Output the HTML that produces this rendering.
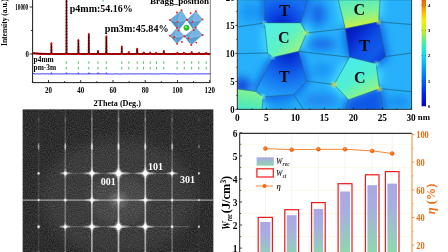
<!DOCTYPE html>
<html><head><meta charset="utf-8"><title>figure</title>
<style>
html,body{margin:0;padding:0;background:#fff;}
body{width:448px;height:252px;overflow:hidden;}
svg{display:block;}
text{font-family:"Liberation Serif",serif;font-weight:bold;}
</style></head><body>
<svg width="448" height="252" viewBox="0 0 448 252">
<rect width="448" height="252" fill="#fff"/>

<defs>
<filter id="noise" x="0" y="0" width="100%" height="100%" color-interpolation-filters="sRGB">
<feTurbulence type="fractalNoise" baseFrequency="0.95" numOctaves="2" seed="7" result="t"/>
<feColorMatrix type="matrix" values="0.26 0 0 0 0.05  0.26 0 0 0 0.05  0.26 0 0 0 0.05  0 0 0 0 1"/>
</filter>
<clipPath id="temclip"><rect x="22.7" y="109.5" width="190.6" height="143"/></clipPath>
<clipPath id="hmclip"><rect x="237.3" y="0" width="174.3" height="109.6"/></clipPath>
<clipPath id="xrdclip"><rect x="33" y="0" width="177.5" height="83"/></clipPath>
<filter id="b1"><feGaussianBlur stdDeviation="1"/></filter>
<filter id="b2"><feGaussianBlur stdDeviation="2.2"/></filter>
<filter id="b4"><feGaussianBlur stdDeviation="4"/></filter>
<filter id="b7"><feGaussianBlur stdDeviation="7"/></filter>
<filter id="b06"><feGaussianBlur stdDeviation="0.65"/></filter>
<filter id="b05"><feGaussianBlur stdDeviation="0.5"/></filter>
<radialGradient id="spot"><stop offset="0" stop-color="#fff" stop-opacity="1"/><stop offset="0.35" stop-color="#fff" stop-opacity="0.7"/><stop offset="1" stop-color="#fff" stop-opacity="0"/></radialGradient>
<linearGradient id="vfade" x1="0" y1="0" x2="0" y2="1"><stop offset="0" stop-color="#fff" stop-opacity="0.25"/><stop offset="0.35" stop-color="#fff" stop-opacity="0.75"/><stop offset="0.6" stop-color="#fff" stop-opacity="1"/><stop offset="1" stop-color="#fff" stop-opacity="0.8"/></linearGradient>
<linearGradient id="hflare" x1="0" y1="0" x2="1" y2="0"><stop offset="0" stop-color="#fff" stop-opacity="0"/><stop offset="0.5" stop-color="#fff" stop-opacity="1"/><stop offset="1" stop-color="#fff" stop-opacity="0"/></linearGradient>
<linearGradient id="vflare" x1="0" y1="0" x2="0" y2="1"><stop offset="0" stop-color="#fff" stop-opacity="0"/><stop offset="0.5" stop-color="#fff" stop-opacity="1"/><stop offset="1" stop-color="#fff" stop-opacity="0"/></linearGradient>
<linearGradient id="bargrad" x1="0" y1="0" x2="0" y2="1" gradientUnits="userSpaceOnUse"><stop offset="0" stop-color="#a9a5e3"/></linearGradient>
<linearGradient id="barg" gradientUnits="userSpaceOnUse" x1="0" y1="184" x2="0" y2="252"><stop offset="0" stop-color="#aaa8e6"/><stop offset="0.45" stop-color="#a6b4d8"/><stop offset="1" stop-color="#8fd4b0"/></linearGradient>
<linearGradient id="legg2" x1="0" y1="0" x2="0" y2="1"><stop offset="0" stop-color="#aaa7e4"/><stop offset="0.25" stop-color="#a8aee0"/><stop offset="0.75" stop-color="#90d6b0"/><stop offset="1" stop-color="#8cd8aa"/></linearGradient>
<linearGradient id="legg" x1="0" y1="0" x2="0" y2="1"><stop offset="0" stop-color="#aaa8e6"/><stop offset="1" stop-color="#8fd4b0"/></linearGradient>
<linearGradient id="cbar" x1="0" y1="1" x2="0" y2="0"><stop offset="0" stop-color="#0000d0"/><stop offset="0.1" stop-color="#0028f0"/><stop offset="0.2" stop-color="#0060ff"/><stop offset="0.3" stop-color="#00a0ff"/><stop offset="0.4" stop-color="#10d8f0"/><stop offset="0.45" stop-color="#20e8d0"/><stop offset="0.5" stop-color="#40f0a0"/><stop offset="0.55" stop-color="#80f060"/><stop offset="0.6" stop-color="#c8f020"/><stop offset="0.68" stop-color="#f0f000"/><stop offset="0.74" stop-color="#f8c000"/><stop offset="0.8" stop-color="#f08000"/><stop offset="0.86" stop-color="#f05800"/><stop offset="1" stop-color="#e02000"/></linearGradient>
</defs>
<g id="xrd">
<path d="M32.6 0V82.6H210.3" fill="none" stroke="#000" stroke-width="0.9"/>
<path d="M210.3 82.6V0" fill="none" stroke="#444" stroke-width="0.7"/>
<g clip-path="url(#xrdclip)">
<path d="M32.6 53.1L40.6 54.0H210.3" fill="none" stroke="#e00000" stroke-width="2.0"/>
<path d="M32.6 53.2L50.40 54.0L51.05 52.8L51.40 43.3L51.75 52.8L52.40 54.0L65.50 54.0L66.15 52.8L66.50 -30L66.85 52.8L67.50 54.0L77.40 54.0L78.05 52.8L78.40 39.6L78.75 52.8L79.40 54.0L87.80 54.0L88.45 52.8L88.80 33.6L89.15 52.8L89.80 54.0L97.00 54.0L97.65 52.8L98.00 50.4L98.35 52.8L99.00 54.0L105.40 54.0L106.05 52.8L106.40 36.2L106.75 52.8L107.40 54.0L120.80 54.0L121.45 52.8L121.80 46L122.15 52.8L122.80 54.0L127.80 54.0L128.45 52.8L128.80 52L129.15 52.8L129.80 54.0L136.20 54.0L136.85 52.8L137.20 48.7L137.55 52.8L138.20 54.0L142.80 54.0L143.45 52.8L143.80 52L144.15 52.8L144.80 54.0L149.20 54.0L149.85 52.8L150.20 52.5L150.55 52.8L151.20 54.0L155.40 54.0L156.05 52.8L156.40 52.8L156.75 52.8L157.40 54.0L162.80 54.0L163.45 52.8L163.80 50.5L164.15 52.8L164.80 54.0L176.20 54.0L176.85 52.8L177.20 53L177.55 52.8L178.20 54.0L183.20 54.0L183.85 52.8L184.20 53L184.55 52.8L185.20 54.0L190.70 54.0L191.35 52.8L191.70 52L192.05 52.8L192.70 54.0L197.80 54.0L198.45 52.8L198.80 53L199.15 52.8L199.80 54.0L205.00 54.0L205.65 52.8L206.00 52.5L206.35 52.8L207.00 54.0L210.3 54.0" fill="none" stroke="#ee1010" stroke-width="1.9" stroke-linejoin="round" stroke-dasharray="0.8 0.7"/>
<path d="M32.6 53.2L50.40 54.0L51.05 52.8L51.40 43.3L51.75 52.8L52.40 54.0L65.50 54.0L66.15 52.8L66.50 -30L66.85 52.8L67.50 54.0L77.40 54.0L78.05 52.8L78.40 39.6L78.75 52.8L79.40 54.0L87.80 54.0L88.45 52.8L88.80 33.6L89.15 52.8L89.80 54.0L97.00 54.0L97.65 52.8L98.00 50.4L98.35 52.8L99.00 54.0L105.40 54.0L106.05 52.8L106.40 36.2L106.75 52.8L107.40 54.0L120.80 54.0L121.45 52.8L121.80 46L122.15 52.8L122.80 54.0L127.80 54.0L128.45 52.8L128.80 52L129.15 52.8L129.80 54.0L136.20 54.0L136.85 52.8L137.20 48.7L137.55 52.8L138.20 54.0L142.80 54.0L143.45 52.8L143.80 52L144.15 52.8L144.80 54.0L149.20 54.0L149.85 52.8L150.20 52.5L150.55 52.8L151.20 54.0L155.40 54.0L156.05 52.8L156.40 52.8L156.75 52.8L157.40 54.0L162.80 54.0L163.45 52.8L163.80 50.5L164.15 52.8L164.80 54.0L176.20 54.0L176.85 52.8L177.20 53L177.55 52.8L178.20 54.0L183.20 54.0L183.85 52.8L184.20 53L184.55 52.8L185.20 54.0L190.70 54.0L191.35 52.8L191.70 52L192.05 52.8L192.70 54.0L197.80 54.0L198.45 52.8L198.80 53L199.15 52.8L199.80 54.0L205.00 54.0L205.65 52.8L206.00 52.5L206.35 52.8L207.00 54.0L210.3 54.0" fill="none" stroke="#1c0000" stroke-width="0.75" stroke-linejoin="round"/>
<circle cx="51.4" cy="43.599999999999994" r="0.75" fill="#ee1010"/>
<circle cx="78.4" cy="39.9" r="0.75" fill="#ee1010"/>
<circle cx="88.8" cy="33.9" r="0.75" fill="#ee1010"/>
<circle cx="98" cy="50.699999999999996" r="0.75" fill="#ee1010"/>
<circle cx="106.4" cy="36.5" r="0.75" fill="#ee1010"/>
<circle cx="121.8" cy="46.3" r="0.75" fill="#ee1010"/>
<circle cx="128.8" cy="52.3" r="0.75" fill="#ee1010"/>
<circle cx="137.2" cy="49.0" r="0.75" fill="#ee1010"/>
<circle cx="143.8" cy="52.3" r="0.75" fill="#ee1010"/>
<circle cx="150.2" cy="52.8" r="0.75" fill="#ee1010"/>
<circle cx="156.4" cy="53.099999999999994" r="0.75" fill="#ee1010"/>
<circle cx="163.8" cy="50.8" r="0.75" fill="#ee1010"/>
<circle cx="177.2" cy="53.3" r="0.75" fill="#ee1010"/>
<circle cx="184.2" cy="53.3" r="0.75" fill="#ee1010"/>
<circle cx="191.7" cy="52.3" r="0.75" fill="#ee1010"/>
<circle cx="198.8" cy="53.3" r="0.75" fill="#ee1010"/>
<circle cx="206" cy="52.8" r="0.75" fill="#ee1010"/>
<path d="M32.6 73.0L34.1 73.84L35.6 73.91L37.1 73.87L38.6 73.92L40.1 73.93L41.6 73.80L43.1 73.78L44.6 73.98L46.1 73.84L47.6 73.84L49.1 74.02L50.6 73.89L52.1 73.98L53.6 73.89L55.1 73.93L56.6 73.82L58.1 73.93L59.6 73.99L61.1 73.91L62.6 73.96L64.1 73.94L65.6 73.80L67.1 73.96L68.6 73.92L70.1 73.85L71.6 73.79L73.1 73.99L74.6 73.89L76.1 73.95L77.6 73.99L79.1 73.95L80.6 74.00L82.1 73.87L83.6 73.97L85.1 73.89L86.6 74.00L88.1 73.99L89.6 73.80L91.1 73.81L92.6 73.83L94.1 74.01L95.6 73.88L97.1 73.93L98.6 73.85L100.1 73.90L101.6 73.87L103.1 73.86L104.6 73.92L106.1 73.92L107.6 74.00L109.1 73.94L110.6 74.00L112.1 73.99L113.6 74.02L115.1 73.94L116.6 73.82L118.1 73.99L119.6 74.01L121.1 74.00L122.6 73.92L124.1 73.95L125.6 73.83L127.1 73.98L128.6 73.92L130.1 73.85L131.6 73.80L133.1 73.98L134.6 74.02L136.1 73.80L137.6 73.97L139.1 73.88L140.6 73.82L142.1 73.85L143.6 73.96L145.1 73.99L146.6 73.79L148.1 73.93L149.6 73.79L151.1 73.95L152.6 73.86L154.1 73.99L155.6 74.02L157.1 73.90L158.6 74.02L160.1 73.85L161.6 73.80L163.1 73.92L164.6 73.79L166.1 73.83L167.6 73.88L169.1 73.93L170.6 73.82L172.1 73.79L173.6 73.99L175.1 73.86L176.6 74.01L178.1 74.00L179.6 73.87L181.1 73.89L182.6 73.90L184.1 73.93L185.6 73.92L187.1 73.91L188.6 73.93L190.1 74.01L191.6 73.90L193.1 73.88L194.6 73.95L196.1 73.84L197.6 73.85L199.1 74.01L200.6 73.91L202.1 73.91L203.6 73.78L205.1 73.88L206.6 73.92L208.1 73.78L209.6 73.93L211.1 73.93" fill="none" stroke="#2222ee" stroke-width="0.9"/>
<path d="M50.6 73.9L51.4 72.6L52.199999999999996 73.9" fill="none" stroke="#2222ee" stroke-width="0.7"/>
<path d="M65.7 73.9L66.5 72.6L67.3 73.9" fill="none" stroke="#2222ee" stroke-width="0.7"/>
<path d="M77.60000000000001 73.9L78.4 72.6L79.2 73.9" fill="none" stroke="#2222ee" stroke-width="0.7"/>
<path d="M88.0 73.9L88.8 72.6L89.6 73.9" fill="none" stroke="#2222ee" stroke-width="0.7"/>
<path d="M97.2 73.9L98 72.6L98.8 73.9" fill="none" stroke="#2222ee" stroke-width="0.7"/>
<path d="M105.60000000000001 73.9L106.4 72.6L107.2 73.9" fill="none" stroke="#2222ee" stroke-width="0.7"/>
<rect x="65.85" y="61.3" width="0.9" height="2.5" fill="#44b455"/>
<rect x="65.85" y="66.9" width="0.9" height="2.5" fill="#44b455"/>
<rect x="77.85" y="61.3" width="0.9" height="2.5" fill="#44b455"/>
<rect x="77.85" y="66.9" width="0.9" height="2.5" fill="#44b455"/>
<rect x="88.35" y="61.3" width="0.9" height="2.5" fill="#44b455"/>
<rect x="88.35" y="66.9" width="0.9" height="2.5" fill="#44b455"/>
<rect x="97.55" y="61.3" width="0.9" height="2.5" fill="#44b455"/>
<rect x="97.55" y="66.9" width="0.9" height="2.5" fill="#44b455"/>
<rect x="105.85" y="61.3" width="0.9" height="2.5" fill="#44b455"/>
<rect x="105.85" y="66.9" width="0.9" height="2.5" fill="#44b455"/>
<rect x="121.35" y="61.3" width="0.9" height="2.5" fill="#44b455"/>
<rect x="121.35" y="66.9" width="0.9" height="2.5" fill="#44b455"/>
<rect x="128.35" y="61.3" width="0.9" height="2.5" fill="#44b455"/>
<rect x="128.35" y="66.9" width="0.9" height="2.5" fill="#44b455"/>
<rect x="136.75" y="61.3" width="0.9" height="2.5" fill="#44b455"/>
<rect x="136.75" y="66.9" width="0.9" height="2.5" fill="#44b455"/>
<rect x="142.95" y="61.3" width="0.9" height="2.5" fill="#44b455"/>
<rect x="142.95" y="66.9" width="0.9" height="2.5" fill="#44b455"/>
<rect x="149.75" y="61.3" width="0.9" height="2.5" fill="#44b455"/>
<rect x="149.75" y="66.9" width="0.9" height="2.5" fill="#44b455"/>
<rect x="156.15" y="61.3" width="0.9" height="2.5" fill="#44b455"/>
<rect x="156.15" y="66.9" width="0.9" height="2.5" fill="#44b455"/>
<rect x="163.35" y="61.3" width="0.9" height="2.5" fill="#44b455"/>
<rect x="163.35" y="66.9" width="0.9" height="2.5" fill="#44b455"/>
<rect x="176.65" y="61.3" width="0.9" height="2.5" fill="#44b455"/>
<rect x="176.65" y="66.9" width="0.9" height="2.5" fill="#44b455"/>
<rect x="183.75" y="61.3" width="0.9" height="2.5" fill="#44b455"/>
<rect x="183.75" y="66.9" width="0.9" height="2.5" fill="#44b455"/>
<rect x="191.25" y="61.3" width="0.9" height="2.5" fill="#44b455"/>
<rect x="191.25" y="66.9" width="0.9" height="2.5" fill="#44b455"/>
<rect x="198.35" y="61.3" width="0.9" height="2.5" fill="#44b455"/>
<rect x="198.35" y="66.9" width="0.9" height="2.5" fill="#44b455"/>
<rect x="205.75" y="61.3" width="0.9" height="2.5" fill="#44b455"/>
<rect x="205.75" y="66.9" width="0.9" height="2.5" fill="#44b455"/>
<rect x="102.6" y="0" width="0.9" height="1.6" fill="#3cb44a"/>
</g>
<path d="M32.38 82.6v-1.5" stroke="#000" stroke-width="0.8"/>
<path d="M48.50 82.6v-2.6" stroke="#000" stroke-width="0.8"/>
<path d="M64.62 82.6v-1.5" stroke="#000" stroke-width="0.8"/>
<path d="M80.74 82.6v-2.6" stroke="#000" stroke-width="0.8"/>
<path d="M96.86 82.6v-1.5" stroke="#000" stroke-width="0.8"/>
<path d="M112.98 82.6v-2.6" stroke="#000" stroke-width="0.8"/>
<path d="M129.10 82.6v-1.5" stroke="#000" stroke-width="0.8"/>
<path d="M145.22 82.6v-2.6" stroke="#000" stroke-width="0.8"/>
<path d="M161.34 82.6v-1.5" stroke="#000" stroke-width="0.8"/>
<path d="M177.46 82.6v-2.6" stroke="#000" stroke-width="0.8"/>
<path d="M193.58 82.6v-1.5" stroke="#000" stroke-width="0.8"/>
<path d="M209.70 82.6v-2.6" stroke="#000" stroke-width="0.8"/>
<path d="M32.6 54.00h-3.0" stroke="#000" stroke-width="0.8"/>
<path d="M32.6 30.50h-1.7" stroke="#000" stroke-width="0.8"/>
<path d="M32.6 7.00h-3.0" stroke="#000" stroke-width="0.8"/>
<text x="29" y="56.6" font-size="8" text-anchor="end" textLength="3.4" lengthAdjust="spacingAndGlyphs">0</text>
<text x="28.2" y="9.6" font-size="8" text-anchor="end" textLength="13" lengthAdjust="spacingAndGlyphs">10000</text>
<text x="48.5" y="92.5" font-size="8" text-anchor="middle" textLength="6.9" lengthAdjust="spacingAndGlyphs">20</text>
<text x="80.7" y="92.5" font-size="8" text-anchor="middle" textLength="6.9" lengthAdjust="spacingAndGlyphs">40</text>
<text x="113.0" y="92.5" font-size="8" text-anchor="middle" textLength="6.9" lengthAdjust="spacingAndGlyphs">60</text>
<text x="145.2" y="92.5" font-size="8" text-anchor="middle" textLength="6.9" lengthAdjust="spacingAndGlyphs">80</text>
<text x="177.5" y="92.5" font-size="8" text-anchor="middle" textLength="10.4" lengthAdjust="spacingAndGlyphs">100</text>
<text x="209.7" y="92.5" font-size="8" text-anchor="middle" textLength="10.4" lengthAdjust="spacingAndGlyphs">120</text>
<text x="117.2" y="105.8" font-size="8.2" text-anchor="middle" textLength="47.5" lengthAdjust="spacingAndGlyphs">2Theta (Deg.)</text>
<text transform="translate(7.4,46) rotate(-90)" font-size="7.4" textLength="47" lengthAdjust="spacingAndGlyphs">Intensity (a.u.)</text>
<text x="69.8" y="11.8" font-size="10" textLength="63" lengthAdjust="spacingAndGlyphs">p4mm:54.16%</text>
<text x="104.8" y="32" font-size="10" textLength="63.8" lengthAdjust="spacingAndGlyphs">pm3m:45.84%</text>
<text x="150" y="3.6" font-size="9" textLength="59" lengthAdjust="spacingAndGlyphs">Bragg_position</text>
<text x="33.6" y="61.9" font-size="7.4">p4mm</text>
<text x="33.6" y="69.8" font-size="7.4">pm-3m</text>
<polygon points="181.5,10.3 187.2,19.6 178.6,30.4 170.0,20.0" fill="#5a9cd2" stroke="#9ccbea" stroke-width="0.45" stroke-linejoin="round"/><polygon points="181.5,10.3 187.2,19.6 177.6,22.0" fill="#78b4e2"/><polygon points="170.0,20.0 177.6,22.0 178.6,30.4" fill="#4a8ac2"/><polygon points="181.5,10.3 170.0,20.0 177.6,22.0" fill="#66a8da"/><path d="M181.5 10.3L177.6 22.0L178.6 30.4M170.0 20.0L177.6 22.0L187.2 19.6" stroke="#b4d8f2" stroke-width="0.4" fill="none"/>
<polygon points="195.8,11.2 202.6,19.4 193.8,30.0 186.9,20.0" fill="#5a9cd2" stroke="#9ccbea" stroke-width="0.45" stroke-linejoin="round"/><polygon points="195.8,11.2 202.6,19.4 192.6,21.8" fill="#78b4e2"/><polygon points="186.9,20.0 192.6,21.8 193.8,30.0" fill="#4a8ac2"/><polygon points="195.8,11.2 186.9,20.0 192.6,21.8" fill="#66a8da"/><path d="M195.8 11.2L192.6 21.8L193.8 30.0M186.9 20.0L192.6 21.8L202.6 19.4" stroke="#b4d8f2" stroke-width="0.4" fill="none"/>
<polygon points="177.0,28.0 184.4,36.2 177.0,43.8 170.0,35.8" fill="#5a9cd2" stroke="#9ccbea" stroke-width="0.45" stroke-linejoin="round"/><polygon points="177.0,28.0 184.4,36.2 174.4,37.0" fill="#78b4e2"/><polygon points="170.0,35.8 174.4,37.0 177.0,43.8" fill="#4a8ac2"/><polygon points="177.0,28.0 170.0,35.8 174.4,37.0" fill="#66a8da"/><path d="M177.0 28.0L174.4 37.0L177.0 43.8M170.0 35.8L174.4 37.0L184.4 36.2" stroke="#b4d8f2" stroke-width="0.4" fill="none"/>
<polygon points="195.6,27.6 202.6,35.0 191.3,45.0 184.4,36.2" fill="#5a9cd2" stroke="#9ccbea" stroke-width="0.45" stroke-linejoin="round"/><polygon points="195.6,27.6 202.6,35.0 188.8,38.2" fill="#78b4e2"/><polygon points="184.4,36.2 188.8,38.2 191.3,45.0" fill="#4a8ac2"/><polygon points="195.6,27.6 184.4,36.2 188.8,38.2" fill="#66a8da"/><path d="M195.6 27.6L188.8 38.2L191.3 45.0M184.4 36.2L188.8 38.2L202.6 35.0" stroke="#b4d8f2" stroke-width="0.4" fill="none"/>
<circle cx="181.5" cy="10.3" r="0.95" fill="#ee1c1c"/>
<circle cx="187.2" cy="19.6" r="0.95" fill="#ee1c1c"/>
<circle cx="178.6" cy="30.4" r="0.95" fill="#ee1c1c"/>
<circle cx="170.0" cy="20.0" r="0.95" fill="#ee1c1c"/>
<circle cx="177.6" cy="22.0" r="0.95" fill="#ee1c1c"/>
<circle cx="176.9" cy="12.5" r="0.95" fill="#ee1c1c"/>
<circle cx="195.8" cy="11.2" r="0.95" fill="#ee1c1c"/>
<circle cx="202.6" cy="19.4" r="0.95" fill="#ee1c1c"/>
<circle cx="193.8" cy="30.0" r="0.95" fill="#ee1c1c"/>
<circle cx="186.9" cy="20.0" r="0.95" fill="#ee1c1c"/>
<circle cx="192.6" cy="21.8" r="0.95" fill="#ee1c1c"/>
<circle cx="190.6" cy="13.2" r="0.95" fill="#ee1c1c"/>
<circle cx="177.0" cy="28.0" r="0.95" fill="#ee1c1c"/>
<circle cx="184.4" cy="36.2" r="0.95" fill="#ee1c1c"/>
<circle cx="177.0" cy="43.8" r="0.95" fill="#ee1c1c"/>
<circle cx="170.0" cy="35.8" r="0.95" fill="#ee1c1c"/>
<circle cx="174.4" cy="37.0" r="0.95" fill="#ee1c1c"/>
<circle cx="181.9" cy="41.9" r="0.95" fill="#ee1c1c"/>
<circle cx="195.6" cy="27.6" r="0.95" fill="#ee1c1c"/>
<circle cx="202.6" cy="35.0" r="0.95" fill="#ee1c1c"/>
<circle cx="191.3" cy="45.0" r="0.95" fill="#ee1c1c"/>
<circle cx="184.4" cy="36.2" r="0.95" fill="#ee1c1c"/>
<circle cx="188.8" cy="38.2" r="0.95" fill="#ee1c1c"/>
<circle cx="196.3" cy="42.6" r="0.95" fill="#ee1c1c"/>
<circle cx="186.5" cy="27.8" r="2.7" fill="#22cc22" stroke="#128a12" stroke-width="0.4"/>
<circle cx="185.8" cy="27" r="1" fill="#9af59a"/>
</g>
<g id="tem" clip-path="url(#temclip)">
<rect x="22.7" y="109.5" width="190.6" height="143" fill="#2b2b2b"/>
<rect x="22.7" y="109.5" width="190.6" height="143" filter="url(#noise)"/>
<ellipse cx="118.5" cy="197" rx="78" ry="58" fill="#fff" opacity="0.075" filter="url(#b7)"/>
<ellipse cx="118.5" cy="200.1" rx="30" ry="24" fill="#fff" opacity="0.07" filter="url(#b4)"/>
<ellipse cx="118.5" cy="200.1" rx="9" ry="8" fill="#fff" opacity="0.16" filter="url(#b2)"/>
<rect x="37.79" y="105" width="1.7" height="150" fill="url(#vfade)" opacity="0.1" filter="url(#b06)"/>
<rect x="64.41" y="105" width="1.7" height="150" fill="url(#vfade)" opacity="0.32" filter="url(#b06)"/>
<rect x="91.03" y="105" width="1.7" height="150" fill="url(#vfade)" opacity="0.66" filter="url(#b06)"/>
<rect x="117.65" y="105" width="1.7" height="150" fill="url(#vfade)" opacity="0.74" filter="url(#b06)"/>
<rect x="144.45" y="105" width="1.7" height="150" fill="url(#vfade)" opacity="0.66" filter="url(#b06)"/>
<rect x="171.25" y="105" width="1.7" height="150" fill="url(#vfade)" opacity="0.3" filter="url(#b06)"/>
<rect x="198.05" y="105" width="1.7" height="150" fill="url(#vfade)" opacity="0.03" filter="url(#b06)"/>
<rect x="18" y="199.55" width="200" height="1.1" fill="#fff" opacity="0.62" filter="url(#b05)"/>
<rect x="70" y="172.90" width="108" height="0.9" fill="#fff" opacity="0.22" filter="url(#b05)"/>
<rect x="60" y="226.25" width="130" height="0.9" fill="#fff" opacity="0.26" filter="url(#b05)"/>
<ellipse cx="38.6" cy="119.8" rx="1.7" ry="4.0" fill="url(#spot)" opacity="0.07"/>
<ellipse cx="38.6" cy="119.8" rx="0.75" ry="2.4" fill="#fff" opacity="0.11" filter="url(#b05)"/>
<ellipse cx="38.6" cy="146.6" rx="1.7" ry="5.0" fill="url(#spot)" opacity="0.22"/>
<ellipse cx="38.6" cy="146.6" rx="0.75" ry="3.4" fill="#fff" opacity="0.32" filter="url(#b05)"/>
<ellipse cx="38.6" cy="173.3" rx="1.98" ry="2.34" fill="url(#spot)" opacity="0.54"/>
<ellipse cx="38.6" cy="173.3" rx="0.95" ry="1.17" fill="#fff" opacity="0.78" filter="url(#b05)"/>
<ellipse cx="38.6" cy="200.1" rx="1.76" ry="2.08" fill="url(#spot)" opacity="0.44"/>
<ellipse cx="38.6" cy="200.1" rx="0.84" ry="1.04" fill="#fff" opacity="0.64" filter="url(#b05)"/>
<ellipse cx="38.6" cy="226.7" rx="2.20" ry="2.60" fill="url(#spot)" opacity="0.56"/>
<ellipse cx="38.6" cy="226.7" rx="1.05" ry="1.30" fill="#fff" opacity="0.80" filter="url(#b05)"/>
<ellipse cx="38.6" cy="253.3" rx="2.20" ry="2.60" fill="url(#spot)" opacity="0.56"/>
<ellipse cx="38.6" cy="253.3" rx="1.05" ry="1.30" fill="#fff" opacity="0.80" filter="url(#b05)"/>
<ellipse cx="65.3" cy="119.8" rx="1.7" ry="4.0" fill="url(#spot)" opacity="0.07"/>
<ellipse cx="65.3" cy="119.8" rx="0.75" ry="2.4" fill="#fff" opacity="0.11" filter="url(#b05)"/>
<ellipse cx="65.3" cy="146.6" rx="1.7" ry="5.0" fill="url(#spot)" opacity="0.31"/>
<ellipse cx="65.3" cy="146.6" rx="0.75" ry="3.4" fill="#fff" opacity="0.47" filter="url(#b05)"/>
<ellipse cx="65.3" cy="173.3" rx="2.64" ry="3.12" fill="url(#spot)" opacity="0.60"/>
<ellipse cx="65.3" cy="173.3" rx="1.26" ry="1.56" fill="#fff" opacity="0.86" filter="url(#b05)"/>
<rect x="58.8" y="172.2" width="13.0" height="2.2" fill="url(#hflare)" opacity="0.79" filter="url(#b05)"/>
<rect x="64.3" y="168.1" width="2" height="10.6" fill="url(#vflare)" opacity="0.64" filter="url(#b05)"/>
<ellipse cx="65.3" cy="200.1" rx="2.42" ry="2.86" fill="url(#spot)" opacity="0.49"/>
<ellipse cx="65.3" cy="200.1" rx="1.16" ry="1.43" fill="#fff" opacity="0.71" filter="url(#b05)"/>
<ellipse cx="65.3" cy="226.7" rx="2.64" ry="3.12" fill="url(#spot)" opacity="0.60"/>
<ellipse cx="65.3" cy="226.7" rx="1.26" ry="1.56" fill="#fff" opacity="0.86" filter="url(#b05)"/>
<rect x="58.8" y="225.6" width="13.0" height="2.2" fill="url(#hflare)" opacity="0.79" filter="url(#b05)"/>
<rect x="64.3" y="221.4" width="2" height="10.6" fill="url(#vflare)" opacity="0.64" filter="url(#b05)"/>
<ellipse cx="65.3" cy="253.3" rx="2.20" ry="2.60" fill="url(#spot)" opacity="0.56"/>
<ellipse cx="65.3" cy="253.3" rx="1.05" ry="1.30" fill="#fff" opacity="0.80" filter="url(#b05)"/>
<ellipse cx="91.9" cy="119.8" rx="1.7" ry="4.0" fill="url(#spot)" opacity="0.09"/>
<ellipse cx="91.9" cy="119.8" rx="0.75" ry="2.4" fill="#fff" opacity="0.13" filter="url(#b05)"/>
<ellipse cx="91.9" cy="146.6" rx="1.7" ry="5.0" fill="url(#spot)" opacity="0.40"/>
<ellipse cx="91.9" cy="146.6" rx="0.75" ry="3.4" fill="#fff" opacity="0.60" filter="url(#b05)"/>
<ellipse cx="91.9" cy="173.3" rx="3.74" ry="4.42" fill="url(#spot)" opacity="0.70"/>
<ellipse cx="91.9" cy="173.3" rx="1.78" ry="2.21" fill="#fff" opacity="1.00" filter="url(#b05)"/>
<rect x="82.7" y="172.2" width="18.4" height="2.2" fill="url(#hflare)" opacity="0.92" filter="url(#b05)"/>
<rect x="90.9" y="165.9" width="2" height="15.0" fill="url(#vflare)" opacity="0.74" filter="url(#b05)"/>
<ellipse cx="91.9" cy="200.1" rx="3.30" ry="3.90" fill="url(#spot)" opacity="0.56"/>
<ellipse cx="91.9" cy="200.1" rx="1.58" ry="1.95" fill="#fff" opacity="0.81" filter="url(#b05)"/>
<rect x="83.8" y="199.0" width="16.2" height="2.2" fill="url(#hflare)" opacity="0.74" filter="url(#b05)"/>
<rect x="90.9" y="193.5" width="2" height="13.2" fill="url(#vflare)" opacity="0.60" filter="url(#b05)"/>
<ellipse cx="91.9" cy="226.7" rx="3.74" ry="4.42" fill="url(#spot)" opacity="0.70"/>
<ellipse cx="91.9" cy="226.7" rx="1.78" ry="2.21" fill="#fff" opacity="1.00" filter="url(#b05)"/>
<rect x="82.7" y="225.6" width="18.4" height="2.2" fill="url(#hflare)" opacity="0.92" filter="url(#b05)"/>
<rect x="90.9" y="219.2" width="2" height="15.0" fill="url(#vflare)" opacity="0.74" filter="url(#b05)"/>
<ellipse cx="91.9" cy="253.3" rx="2.20" ry="2.60" fill="url(#spot)" opacity="0.56"/>
<ellipse cx="91.9" cy="253.3" rx="1.05" ry="1.30" fill="#fff" opacity="0.80" filter="url(#b05)"/>
<ellipse cx="118.5" cy="119.8" rx="1.7" ry="4.0" fill="url(#spot)" opacity="0.10"/>
<ellipse cx="118.5" cy="119.8" rx="0.75" ry="2.4" fill="#fff" opacity="0.14" filter="url(#b05)"/>
<ellipse cx="118.5" cy="146.6" rx="1.7" ry="5.0" fill="url(#spot)" opacity="0.43"/>
<ellipse cx="118.5" cy="146.6" rx="0.75" ry="3.4" fill="#fff" opacity="0.65" filter="url(#b05)"/>
<ellipse cx="118.5" cy="173.3" rx="5.06" ry="5.98" fill="url(#spot)" opacity="0.80"/>
<ellipse cx="118.5" cy="173.3" rx="2.42" ry="2.99" fill="#fff" opacity="1.00" filter="url(#b05)"/>
<rect x="106.1" y="172.2" width="24.8" height="2.2" fill="url(#hflare)" opacity="1.00" filter="url(#b05)"/>
<rect x="117.5" y="163.2" width="2" height="20.2" fill="url(#vflare)" opacity="0.85" filter="url(#b05)"/>
<ellipse cx="118.5" cy="200.1" rx="2.64" ry="3.12" fill="url(#spot)" opacity="0.51"/>
<ellipse cx="118.5" cy="200.1" rx="1.26" ry="1.56" fill="#fff" opacity="0.73" filter="url(#b05)"/>
<rect x="112.0" y="199.0" width="13.0" height="2.2" fill="url(#hflare)" opacity="0.67" filter="url(#b05)"/>
<rect x="117.5" y="194.8" width="2" height="10.6" fill="url(#vflare)" opacity="0.54" filter="url(#b05)"/>
<ellipse cx="118.5" cy="226.7" rx="4.84" ry="5.72" fill="url(#spot)" opacity="0.80"/>
<ellipse cx="118.5" cy="226.7" rx="2.31" ry="2.86" fill="#fff" opacity="1.00" filter="url(#b05)"/>
<rect x="106.6" y="225.6" width="23.8" height="2.2" fill="url(#hflare)" opacity="1.00" filter="url(#b05)"/>
<rect x="117.5" y="217.0" width="2" height="19.4" fill="url(#vflare)" opacity="0.85" filter="url(#b05)"/>
<ellipse cx="118.5" cy="253.3" rx="2.20" ry="2.60" fill="url(#spot)" opacity="0.56"/>
<ellipse cx="118.5" cy="253.3" rx="1.05" ry="1.30" fill="#fff" opacity="0.80" filter="url(#b05)"/>
<ellipse cx="145.3" cy="119.8" rx="1.7" ry="4.0" fill="url(#spot)" opacity="0.09"/>
<ellipse cx="145.3" cy="119.8" rx="0.75" ry="2.4" fill="#fff" opacity="0.13" filter="url(#b05)"/>
<ellipse cx="145.3" cy="146.6" rx="1.7" ry="5.0" fill="url(#spot)" opacity="0.40"/>
<ellipse cx="145.3" cy="146.6" rx="0.75" ry="3.4" fill="#fff" opacity="0.60" filter="url(#b05)"/>
<ellipse cx="145.3" cy="173.3" rx="4.62" ry="5.46" fill="url(#spot)" opacity="0.78"/>
<ellipse cx="145.3" cy="173.3" rx="2.21" ry="2.73" fill="#fff" opacity="1.00" filter="url(#b05)"/>
<rect x="134.0" y="172.2" width="22.7" height="2.2" fill="url(#hflare)" opacity="1.00" filter="url(#b05)"/>
<rect x="144.3" y="164.1" width="2" height="18.5" fill="url(#vflare)" opacity="0.83" filter="url(#b05)"/>
<ellipse cx="145.3" cy="200.1" rx="3.08" ry="3.64" fill="url(#spot)" opacity="0.54"/>
<ellipse cx="145.3" cy="200.1" rx="1.47" ry="1.82" fill="#fff" opacity="0.78" filter="url(#b05)"/>
<rect x="137.7" y="199.0" width="15.1" height="2.2" fill="url(#hflare)" opacity="0.71" filter="url(#b05)"/>
<rect x="144.3" y="193.9" width="2" height="12.3" fill="url(#vflare)" opacity="0.58" filter="url(#b05)"/>
<ellipse cx="145.3" cy="226.7" rx="3.96" ry="4.68" fill="url(#spot)" opacity="0.72"/>
<ellipse cx="145.3" cy="226.7" rx="1.89" ry="2.34" fill="#fff" opacity="1.00" filter="url(#b05)"/>
<rect x="135.6" y="225.6" width="19.4" height="2.2" fill="url(#hflare)" opacity="0.95" filter="url(#b05)"/>
<rect x="144.3" y="218.8" width="2" height="15.8" fill="url(#vflare)" opacity="0.77" filter="url(#b05)"/>
<ellipse cx="145.3" cy="253.3" rx="2.20" ry="2.60" fill="url(#spot)" opacity="0.56"/>
<ellipse cx="145.3" cy="253.3" rx="1.05" ry="1.30" fill="#fff" opacity="0.80" filter="url(#b05)"/>
<ellipse cx="172.1" cy="119.8" rx="1.7" ry="4.0" fill="url(#spot)" opacity="0.07"/>
<ellipse cx="172.1" cy="119.8" rx="0.75" ry="2.4" fill="#fff" opacity="0.11" filter="url(#b05)"/>
<ellipse cx="172.1" cy="146.6" rx="1.7" ry="5.0" fill="url(#spot)" opacity="0.31"/>
<ellipse cx="172.1" cy="146.6" rx="0.75" ry="3.4" fill="#fff" opacity="0.47" filter="url(#b05)"/>
<ellipse cx="172.1" cy="173.3" rx="2.64" ry="3.12" fill="url(#spot)" opacity="0.60"/>
<ellipse cx="172.1" cy="173.3" rx="1.26" ry="1.56" fill="#fff" opacity="0.86" filter="url(#b05)"/>
<rect x="165.6" y="172.2" width="13.0" height="2.2" fill="url(#hflare)" opacity="0.79" filter="url(#b05)"/>
<rect x="171.1" y="168.1" width="2" height="10.6" fill="url(#vflare)" opacity="0.64" filter="url(#b05)"/>
<ellipse cx="172.1" cy="200.1" rx="2.20" ry="2.60" fill="url(#spot)" opacity="0.48"/>
<ellipse cx="172.1" cy="200.1" rx="1.05" ry="1.30" fill="#fff" opacity="0.68" filter="url(#b05)"/>
<ellipse cx="172.1" cy="226.7" rx="2.20" ry="2.60" fill="url(#spot)" opacity="0.56"/>
<ellipse cx="172.1" cy="226.7" rx="1.05" ry="1.30" fill="#fff" opacity="0.80" filter="url(#b05)"/>
<ellipse cx="172.1" cy="253.3" rx="2.20" ry="2.60" fill="url(#spot)" opacity="0.56"/>
<ellipse cx="172.1" cy="253.3" rx="1.05" ry="1.30" fill="#fff" opacity="0.80" filter="url(#b05)"/>
<ellipse cx="198.9" cy="119.8" rx="1.7" ry="3.1" fill="url(#spot)" opacity="0.05"/>
<ellipse cx="198.9" cy="119.8" rx="0.75" ry="1.5" fill="#fff" opacity="0.08" filter="url(#b05)"/>
<ellipse cx="198.9" cy="146.6" rx="1.7" ry="3.1" fill="url(#spot)" opacity="0.16"/>
<ellipse cx="198.9" cy="146.6" rx="0.75" ry="1.5" fill="#fff" opacity="0.23" filter="url(#b05)"/>
<ellipse cx="198.9" cy="173.3" rx="1.76" ry="2.08" fill="url(#spot)" opacity="0.52"/>
<ellipse cx="198.9" cy="173.3" rx="0.84" ry="1.04" fill="#fff" opacity="0.75" filter="url(#b05)"/>
<ellipse cx="198.9" cy="200.1" rx="1.54" ry="1.82" fill="url(#spot)" opacity="0.43"/>
<ellipse cx="198.9" cy="200.1" rx="0.73" ry="0.91" fill="#fff" opacity="0.61" filter="url(#b05)"/>
<ellipse cx="198.9" cy="226.7" rx="1.76" ry="2.08" fill="url(#spot)" opacity="0.52"/>
<ellipse cx="198.9" cy="226.7" rx="0.84" ry="1.04" fill="#fff" opacity="0.75" filter="url(#b05)"/>
<ellipse cx="198.9" cy="253.3" rx="2.20" ry="2.60" fill="url(#spot)" opacity="0.56"/>
<ellipse cx="198.9" cy="253.3" rx="1.05" ry="1.30" fill="#fff" opacity="0.80" filter="url(#b05)"/>
<text x="100.8" y="184.6" font-size="10" fill="#fff">001</text>
<text x="148" y="169.6" font-size="10" fill="#fff">101</text>
<text x="180" y="183.4" font-size="10" fill="#fff">301</text>
</g>
<defs>
<radialGradient id="gT1" gradientUnits="userSpaceOnUse" cx="282" cy="25" r="27"><stop offset="0" stop-color="#0320c2"/><stop offset="0.4" stop-color="#093ee0"/><stop offset="1" stop-color="#1670f2"/></radialGradient>
<linearGradient id="gC1" gradientUnits="userSpaceOnUse" x1="268" y1="24" x2="300" y2="56"><stop offset="0" stop-color="#54eee6"/><stop offset="0.5" stop-color="#5cf2c6"/><stop offset="1" stop-color="#a8f46c"/></linearGradient>
<linearGradient id="gT2" gradientUnits="userSpaceOnUse" x1="348" y1="30" x2="382" y2="62"><stop offset="0" stop-color="#0318bc"/><stop offset="0.2" stop-color="#0628cc"/><stop offset="0.5" stop-color="#0d4ee6"/><stop offset="0.75" stop-color="#105ae8"/><stop offset="1" stop-color="#0a3cd8"/></linearGradient>
<linearGradient id="gC2" gradientUnits="userSpaceOnUse" x1="356" y1="-6" x2="362" y2="28"><stop offset="0" stop-color="#4ce8cc"/><stop offset="0.55" stop-color="#7df29a"/><stop offset="1" stop-color="#d6f234"/></linearGradient>
<linearGradient id="gC3" gradientUnits="userSpaceOnUse" x1="350" y1="58" x2="372" y2="98"><stop offset="0" stop-color="#48ecec"/><stop offset="0.5" stop-color="#52f0d0"/><stop offset="0.8" stop-color="#84f490"/><stop offset="1" stop-color="#c4f450"/></linearGradient>
<radialGradient id="gT3" gradientUnits="userSpaceOnUse" cx="288" cy="52" r="46"><stop offset="0" stop-color="#0322c4"/><stop offset="0.2" stop-color="#0838d8"/><stop offset="0.5" stop-color="#1262ec"/><stop offset="0.8" stop-color="#1a88f4"/><stop offset="1" stop-color="#22a0f8"/></radialGradient>
<linearGradient id="gBL" gradientUnits="userSpaceOnUse" x1="250" y1="88" x2="246" y2="110"><stop offset="0" stop-color="#8af488"/><stop offset="1" stop-color="#46e8c4"/></linearGradient>
<linearGradient id="gLL" gradientUnits="userSpaceOnUse" x1="262" y1="56" x2="240" y2="90"><stop offset="0" stop-color="#25a8fa"/><stop offset="0.6" stop-color="#1478f0"/><stop offset="1" stop-color="#0a44dc"/></linearGradient>
<linearGradient id="gUB" gradientUnits="userSpaceOnUse" x1="364" y1="92" x2="364" y2="110"><stop offset="0" stop-color="#0a3cd8"/><stop offset="1" stop-color="#1a78f2"/></linearGradient>
<linearGradient id="gBM" gradientUnits="userSpaceOnUse" x1="320" y1="84" x2="322" y2="110"><stop offset="0" stop-color="#27b4fa"/><stop offset="1" stop-color="#1a88f4"/></linearGradient>
<linearGradient id="gTM" gradientUnits="userSpaceOnUse" x1="322" y1="0" x2="322" y2="32"><stop offset="0" stop-color="#1e9cf8"/><stop offset="1" stop-color="#2cc4fa"/></linearGradient>
<linearGradient id="gTL" gradientUnits="userSpaceOnUse" x1="250" y1="0" x2="250" y2="28"><stop offset="0" stop-color="#1d8ef6"/><stop offset="1" stop-color="#27b0fa"/></linearGradient>
</defs>
<g id="hm" clip-path="url(#hmclip)">
<rect x="237.3" y="0" width="174.3" height="109.4" fill="#27b0fb"/>
<g filter="url(#b4)">
<polygon points="264.6,22.9 300.6,22.9 306.5,33.0 298.6,51.4 273.0,57.4 267.7,53.0" fill="#48e2ff" stroke="#48e2ff" stroke-width="7" stroke-linejoin="round" opacity="0.9"/>
<polygon points="338.8,-6.0 380.2,-6.0 378.5,21.9 345.4,28.7" fill="#48e2ff" stroke="#48e2ff" stroke-width="7" stroke-linejoin="round" opacity="0.9"/>
<polygon points="349.6,57.2 376.0,63.7 379.4,88.6 348.5,99.7 334.2,84.5" fill="#48e2ff" stroke="#48e2ff" stroke-width="7" stroke-linejoin="round" opacity="0.9"/>
<polygon points="232.3,89.0 255.6,91.5 262.8,96.7 262.0,114.4 232.3,114.4" fill="#48e2ff" stroke="#48e2ff" stroke-width="7" stroke-linejoin="round" opacity="0.9"/>
</g>
<g filter="url(#b4)">
<polygon points="265.2,-6.0 308.4,-6.0 300.6,22.9 264.6,22.9" fill="#0e54e6" stroke="#0e54e6" stroke-width="5" stroke-linejoin="round" opacity="0.95"/>
<polygon points="345.4,28.7 378.5,21.9 385.6,56.6 376.0,63.7 349.6,57.2" fill="#0e54e6" stroke="#0e54e6" stroke-width="5" stroke-linejoin="round" opacity="0.95"/>
<polygon points="273.0,57.4 298.6,51.4 306.5,81.0 293.5,94.4 262.8,96.7 255.6,91.5" fill="#0e54e6" stroke="#0e54e6" stroke-width="5" stroke-linejoin="round" opacity="0.9"/>
<polygon points="348.5,99.7 379.4,88.6 383.0,113.4 346.3,113.4" fill="#0e54e6" stroke="#0e54e6" stroke-width="5" stroke-linejoin="round" opacity="0.95"/>
<ellipse cx="242" cy="86" rx="9" ry="8" fill="#0a3cd8" opacity="0.95"/>
<ellipse cx="322" cy="44" rx="14" ry="5.5" fill="#0f58e4" opacity="0.8"/>
<ellipse cx="318" cy="14" rx="8" ry="12" fill="#0f58e4" opacity="0.8"/>
<ellipse cx="322" cy="70" rx="10" ry="6" fill="#0f58e4" opacity="0.35"/>
<ellipse cx="320" cy="100" rx="18" ry="7" fill="#0f58e4" opacity="0.45"/>
<ellipse cx="280" cy="104" rx="14" ry="5" fill="#0f58e4" opacity="0.35"/>
<ellipse cx="250" cy="12" rx="10" ry="10" fill="#0f58e4" opacity="0.3"/>
<ellipse cx="398" cy="102" rx="12" ry="6" fill="#0f58e4" opacity="0.4"/>
</g>
<polygon points="237.3,0.0 265.5,0.0 264.6,22.9 237.3,27.0" fill="none" stroke="#1c6a86" stroke-width="0.45" stroke-linejoin="round"/>
<polygon points="237.3,27.0 264.6,22.9 267.7,53.0 237.3,53.7" fill="none" stroke="#1c6a86" stroke-width="0.45" stroke-linejoin="round"/>
<polygon points="237.3,53.7 267.7,53.0 273.0,57.4 255.6,91.5 237.3,89.0" fill="none" stroke="#1c6a86" stroke-width="0.45" stroke-linejoin="round"/>
<polygon points="307.1,0.0 338.3,0.0 345.4,28.7 306.5,33.0 300.6,22.9" fill="none" stroke="#1c6a86" stroke-width="0.45" stroke-linejoin="round"/>
<polygon points="306.5,33.0 345.4,28.7 349.6,57.2 298.6,51.4" fill="none" stroke="#1c6a86" stroke-width="0.45" stroke-linejoin="round"/>
<polygon points="298.6,51.4 349.6,57.2 334.2,84.5 306.5,81.0" fill="none" stroke="#1c6a86" stroke-width="0.45" stroke-linejoin="round"/>
<polygon points="306.5,81.0 334.2,84.5 348.5,99.7 345.5,109.4 303.5,109.4 293.5,94.4" fill="none" stroke="#1c6a86" stroke-width="0.45" stroke-linejoin="round"/>
<polygon points="262.8,96.7 293.5,94.4 303.5,109.4 262.0,109.4" fill="none" stroke="#1c6a86" stroke-width="0.45" stroke-linejoin="round"/>
<polygon points="348.5,99.7 379.4,88.6 383.0,109.4 345.5,109.4" fill="none" stroke="#1c6a86" stroke-width="0.45" stroke-linejoin="round"/>
<polygon points="379.9,0.0 411.6,0.0 411.6,24.5 378.5,21.9" fill="none" stroke="#1c6a86" stroke-width="0.45" stroke-linejoin="round"/>
<polygon points="378.5,21.9 411.6,24.5 411.6,53.0 385.6,56.6" fill="none" stroke="#1c6a86" stroke-width="0.45" stroke-linejoin="round"/>
<polygon points="385.6,56.6 411.6,53.0 411.6,91.7 379.4,88.6 376.0,63.7 376.0,63.7" fill="none" stroke="#1c6a86" stroke-width="0.45" stroke-linejoin="round"/>
<polygon points="379.4,88.6 411.6,91.7 411.6,109.4 383.0,109.4" fill="none" stroke="#1c6a86" stroke-width="0.45" stroke-linejoin="round"/>
<polygon points="265.5,0.0 307.1,0.0 300.6,22.9 264.6,22.9" fill="url(#gT1)" stroke="#1c6a86" stroke-width="0.45" stroke-linejoin="round"/>
<polygon points="264.6,22.9 300.6,22.9 306.5,33.0 298.6,51.4 273.0,57.4 267.7,53.0" fill="url(#gC1)" stroke="#1c6a86" stroke-width="0.45" stroke-linejoin="round"/>
<polygon points="338.3,0.0 379.9,0.0 378.5,21.9 345.4,28.7" fill="url(#gC2)" stroke="#1c6a86" stroke-width="0.45" stroke-linejoin="round"/>
<polygon points="345.4,28.7 378.5,21.9 385.6,56.6 376.0,63.7 349.6,57.2" fill="url(#gT2)" stroke="#1c6a86" stroke-width="0.45" stroke-linejoin="round"/>
<polygon points="349.6,57.2 376.0,63.7 379.4,88.6 348.5,99.7 334.2,84.5" fill="url(#gC3)" stroke="#1c6a86" stroke-width="0.45" stroke-linejoin="round"/>
<polygon points="273.0,57.4 298.6,51.4 306.5,81.0 293.5,94.4 262.8,96.7 255.6,91.5" fill="url(#gT3)" stroke="#1c6a86" stroke-width="0.45" stroke-linejoin="round"/>
<polygon points="237.3,89.0 255.6,91.5 262.8,96.7 262.0,109.4 237.3,109.4" fill="url(#gBL)" stroke="#1c6a86" stroke-width="0.45" stroke-linejoin="round"/>
<circle cx="306.5" cy="33" r="2.2" fill="#c8f850" opacity="0.75" filter="url(#b1)"/>
<circle cx="334" cy="84.6" r="2.6" fill="#f0e020" opacity="0.75" filter="url(#b1)"/>
<circle cx="379.4" cy="89" r="2.2" fill="#e8f040" opacity="0.75" filter="url(#b1)"/>
<circle cx="262.8" cy="96.7" r="2.4" fill="#80f8e0" opacity="0.75" filter="url(#b1)"/>
<circle cx="264.6" cy="22.9" r="2.0" fill="#70f0e8" opacity="0.75" filter="url(#b1)"/>
<circle cx="378.4" cy="22.2" r="2.0" fill="#e0f040" opacity="0.75" filter="url(#b1)"/>
<circle cx="376.5" cy="63.8" r="2.4" fill="#70f0e0" opacity="0.75" filter="url(#b1)"/>
<circle cx="272.9" cy="57.6" r="2" fill="#60e8f0" opacity="0.75" filter="url(#b1)"/>
</g>
<text x="284.6" y="16.4" font-size="16" text-anchor="middle" fill="#0a0a14">T</text>
<text x="283.9" y="43.0" font-size="16" text-anchor="middle" fill="#0a0a14">C</text>
<text x="359.2" y="14.7" font-size="16" text-anchor="middle" fill="#0a0a14">C</text>
<text x="364.6" y="51.2" font-size="16" text-anchor="middle" fill="#0a0a14">T</text>
<text x="284.3" y="81.5" font-size="16" text-anchor="middle" fill="#0a0a14">T</text>
<text x="359.7" y="83.2" font-size="16" text-anchor="middle" fill="#0a0a14">C</text>
<path d="M237.3 0V109.4H411.6V0" fill="none" stroke="#1a1a1a" stroke-width="0.8"/>
<path d="M237.3 109.4h-2" stroke="#000" stroke-width="0.7"/>
<text x="234.5" y="112.7" font-size="10" text-anchor="end" textLength="4.35" lengthAdjust="spacingAndGlyphs">0</text>
<path d="M237.3 81.4h-2" stroke="#000" stroke-width="0.7"/>
<text x="234.5" y="84.7" font-size="10" text-anchor="end" textLength="4.35" lengthAdjust="spacingAndGlyphs">5</text>
<path d="M237.3 53.4h-2" stroke="#000" stroke-width="0.7"/>
<text x="234.5" y="56.7" font-size="10" text-anchor="end" textLength="8.7" lengthAdjust="spacingAndGlyphs">10</text>
<path d="M237.3 25.4h-2" stroke="#000" stroke-width="0.7"/>
<text x="234.5" y="28.7" font-size="10" text-anchor="end" textLength="8.7" lengthAdjust="spacingAndGlyphs">15</text>
<path d="M237.3 -2.6h-2" stroke="#000" stroke-width="0.7"/>
<text x="234.5" y="0.7" font-size="10" text-anchor="end" textLength="8.7" lengthAdjust="spacingAndGlyphs">20</text>
<path d="M237.3 109.4v-1.6" stroke="#000" stroke-width="0.7"/>
<text x="237.3" y="120.9" font-size="10" text-anchor="middle" textLength="4.65" lengthAdjust="spacingAndGlyphs">0</text>
<path d="M266.3 109.4v-1.6" stroke="#000" stroke-width="0.7"/>
<text x="266.3" y="120.9" font-size="10" text-anchor="middle" textLength="4.65" lengthAdjust="spacingAndGlyphs">5</text>
<path d="M295.3 109.4v-1.6" stroke="#000" stroke-width="0.7"/>
<text x="295.3" y="120.9" font-size="10" text-anchor="middle" textLength="9.3" lengthAdjust="spacingAndGlyphs">10</text>
<path d="M324.3 109.4v-1.6" stroke="#000" stroke-width="0.7"/>
<text x="324.3" y="120.9" font-size="10" text-anchor="middle" textLength="9.3" lengthAdjust="spacingAndGlyphs">15</text>
<path d="M353.3 109.4v-1.6" stroke="#000" stroke-width="0.7"/>
<text x="353.3" y="120.9" font-size="10" text-anchor="middle" textLength="9.3" lengthAdjust="spacingAndGlyphs">20</text>
<path d="M382.3 109.4v-1.6" stroke="#000" stroke-width="0.7"/>
<text x="382.3" y="120.9" font-size="10" text-anchor="middle" textLength="9.3" lengthAdjust="spacingAndGlyphs">25</text>
<path d="M411.3 109.4v-1.6" stroke="#000" stroke-width="0.7"/>
<text x="411.1" y="120.9" font-size="10" text-anchor="middle" textLength="9.3" lengthAdjust="spacingAndGlyphs">30</text>
<path d="M237.3 95.4h-1.2" stroke="#000" stroke-width="0.6"/>
<path d="M237.3 67.4h-1.2" stroke="#000" stroke-width="0.6"/>
<path d="M237.3 39.4h-1.2" stroke="#000" stroke-width="0.6"/>
<path d="M237.3 11.4h-1.2" stroke="#000" stroke-width="0.6"/>
<path d="M251.8 109.4v-1.1" stroke="#000" stroke-width="0.6"/>
<path d="M280.8 109.4v-1.1" stroke="#000" stroke-width="0.6"/>
<path d="M309.8 109.4v-1.1" stroke="#000" stroke-width="0.6"/>
<path d="M338.8 109.4v-1.1" stroke="#000" stroke-width="0.6"/>
<path d="M367.8 109.4v-1.1" stroke="#000" stroke-width="0.6"/>
<path d="M396.8 109.4v-1.1" stroke="#000" stroke-width="0.6"/>
<text x="417.8" y="120.2" font-size="8.6" textLength="12.2" lengthAdjust="spacingAndGlyphs">nm</text>
<rect x="421.6" y="-20" width="4.4" height="126.2" fill="url(#cbar)"/>
<path d="M421.6 5.2h0.9M426 5.2h-0.9" stroke="#222" stroke-width="0.5"/>
<text x="427.8" y="6.9" font-size="5" textLength="2.6" lengthAdjust="spacingAndGlyphs">4</text>
<path d="M421.6 30.4h0.9M426 30.4h-0.9" stroke="#222" stroke-width="0.5"/>
<text x="427.8" y="32.1" font-size="5" textLength="2.6" lengthAdjust="spacingAndGlyphs">3</text>
<path d="M421.6 55.6h0.9M426 55.6h-0.9" stroke="#222" stroke-width="0.5"/>
<text x="427.8" y="57.300000000000004" font-size="5" textLength="2.6" lengthAdjust="spacingAndGlyphs">2</text>
<path d="M421.6 80.8h0.9M426 80.8h-0.9" stroke="#222" stroke-width="0.5"/>
<text x="427.8" y="82.5" font-size="5" textLength="2.6" lengthAdjust="spacingAndGlyphs">1</text>
<path d="M421.6 106h0.9M426 106h-0.9" stroke="#222" stroke-width="0.5"/>
<text x="427.8" y="107.7" font-size="5" textLength="2.6" lengthAdjust="spacingAndGlyphs">0</text>
<g id="bars">
<path d="M265.5 133.1V252" stroke="#ececec" stroke-width="0.6"/>
<path d="M291.7 133.1V252" stroke="#ececec" stroke-width="0.6"/>
<path d="M318.4 133.1V252" stroke="#ececec" stroke-width="0.6"/>
<path d="M345 133.1V252" stroke="#ececec" stroke-width="0.6"/>
<path d="M372.2 133.1V252" stroke="#ececec" stroke-width="0.6"/>
<path d="M392.2 133.1V252" stroke="#ececec" stroke-width="0.6"/>
<path d="M239.7 236.6H412.0" stroke="#f6f4d8" stroke-width="0.6"/>
<path d="M239.7 213.5H412.0" stroke="#f6f4d8" stroke-width="0.6"/>
<path d="M239.7 190.4H412.0" stroke="#f6f4d8" stroke-width="0.6"/>
<path d="M239.7 167.4H412.0" stroke="#f6f4d8" stroke-width="0.6"/>
<path d="M239.7 144.3H412.0" stroke="#f6f4d8" stroke-width="0.6"/>
<rect x="260.2" y="222.0" width="10.2" height="50.0" fill="url(#legg2)"/>
<rect x="258.2" y="217.4" width="14.2" height="90" fill="none" stroke="#f01818" stroke-width="1.2"/>
<rect x="286.8" y="215.2" width="9.8" height="56.8" fill="url(#legg2)"/>
<rect x="284.8" y="209.7" width="13.8" height="90" fill="none" stroke="#f01818" stroke-width="1.2"/>
<rect x="313.6" y="208.9" width="9.6" height="63.1" fill="url(#legg2)"/>
<rect x="311.6" y="202.6" width="13.6" height="90" fill="none" stroke="#f01818" stroke-width="1.2"/>
<rect x="340.1" y="191.5" width="9.9" height="80.5" fill="url(#legg2)"/>
<rect x="338.1" y="183.7" width="13.9" height="90" fill="none" stroke="#f01818" stroke-width="1.2"/>
<rect x="367.4" y="185.2" width="9.6" height="86.8" fill="url(#legg2)"/>
<rect x="365.4" y="174.8" width="13.6" height="90" fill="none" stroke="#f01818" stroke-width="1.2"/>
<rect x="387.4" y="183.6" width="9.6" height="88.4" fill="url(#legg2)"/>
<rect x="385.4" y="171.6" width="13.6" height="90" fill="none" stroke="#f01818" stroke-width="1.2"/>
<polyline points="265.4,148.6 291.7,149.7 318.4,149.3 345,149.3 372.2,150.9 392.2,153.5" fill="none" stroke="#f47a20" stroke-width="0.9"/>
<circle cx="265.4" cy="148.6" r="2" fill="#f26a10" stroke="#e85000" stroke-width="0.4"/>
<circle cx="265.0" cy="148.1" r="0.6" fill="#ffc090"/>
<circle cx="291.7" cy="149.7" r="2" fill="#f26a10" stroke="#e85000" stroke-width="0.4"/>
<circle cx="291.3" cy="149.2" r="0.6" fill="#ffc090"/>
<circle cx="318.4" cy="149.3" r="2" fill="#f26a10" stroke="#e85000" stroke-width="0.4"/>
<circle cx="318.0" cy="148.8" r="0.6" fill="#ffc090"/>
<circle cx="345" cy="149.3" r="2" fill="#f26a10" stroke="#e85000" stroke-width="0.4"/>
<circle cx="344.6" cy="148.8" r="0.6" fill="#ffc090"/>
<circle cx="372.2" cy="150.9" r="2" fill="#f26a10" stroke="#e85000" stroke-width="0.4"/>
<circle cx="371.8" cy="150.4" r="0.6" fill="#ffc090"/>
<circle cx="392.2" cy="153.5" r="2" fill="#f26a10" stroke="#e85000" stroke-width="0.4"/>
<circle cx="391.8" cy="153.0" r="0.6" fill="#ffc090"/>
<path d="M239.7 252V133.1" fill="none" stroke="#222" stroke-width="1"/>
<path d="M239.2 133.4H412.0" fill="none" stroke="#333" stroke-width="1.3"/>
<path d="M412.0 133.1V252" fill="none" stroke="#f47a20" stroke-width="0.9"/>
<path d="M239.7 248.1h2.4" stroke="#222" stroke-width="0.8"/>
<text x="237.5" y="252.2" font-size="10.2" text-anchor="end" textLength="4.7" lengthAdjust="spacingAndGlyphs">1</text>
<path d="M239.7 225.0h2.4" stroke="#222" stroke-width="0.8"/>
<text x="237.5" y="229.1" font-size="10.2" text-anchor="end" textLength="4.7" lengthAdjust="spacingAndGlyphs">2</text>
<path d="M239.7 202.0h2.4" stroke="#222" stroke-width="0.8"/>
<text x="237.5" y="206.1" font-size="10.2" text-anchor="end" textLength="4.7" lengthAdjust="spacingAndGlyphs">3</text>
<path d="M239.7 178.9h2.4" stroke="#222" stroke-width="0.8"/>
<text x="237.5" y="183.0" font-size="10.2" text-anchor="end" textLength="4.7" lengthAdjust="spacingAndGlyphs">4</text>
<path d="M239.7 155.9h2.4" stroke="#222" stroke-width="0.8"/>
<text x="237.5" y="160.0" font-size="10.2" text-anchor="end" textLength="4.7" lengthAdjust="spacingAndGlyphs">5</text>
<path d="M239.7 132.8h2.4" stroke="#222" stroke-width="0.8"/>
<text x="237.5" y="136.9" font-size="10.2" text-anchor="end" textLength="4.7" lengthAdjust="spacingAndGlyphs">6</text>
<path d="M239.7 236.6h1.4" stroke="#222" stroke-width="0.7"/>
<path d="M239.7 213.5h1.4" stroke="#222" stroke-width="0.7"/>
<path d="M239.7 190.4h1.4" stroke="#222" stroke-width="0.7"/>
<path d="M239.7 167.4h1.4" stroke="#222" stroke-width="0.7"/>
<path d="M239.7 144.3h1.4" stroke="#222" stroke-width="0.7"/>
<path d="M412.0 245.1h2.2" stroke="#f47a20" stroke-width="0.8"/>
<text x="416.2" y="249.0" font-size="9.6" fill="#f26a10" textLength="8.4" lengthAdjust="spacingAndGlyphs">20</text>
<path d="M412.0 217.4h2.2" stroke="#f47a20" stroke-width="0.8"/>
<text x="416.2" y="221.3" font-size="9.6" fill="#f26a10" textLength="8.4" lengthAdjust="spacingAndGlyphs">40</text>
<path d="M412.0 189.8h2.2" stroke="#f47a20" stroke-width="0.8"/>
<text x="416.2" y="193.7" font-size="9.6" fill="#f26a10" textLength="8.4" lengthAdjust="spacingAndGlyphs">60</text>
<path d="M412.0 162.1h2.2" stroke="#f47a20" stroke-width="0.8"/>
<text x="416.2" y="166.0" font-size="9.6" fill="#f26a10" textLength="8.4" lengthAdjust="spacingAndGlyphs">80</text>
<path d="M412.0 134.5h2.2" stroke="#f47a20" stroke-width="0.8"/>
<text x="416.2" y="138.4" font-size="9.6" fill="#f26a10" textLength="12.6" lengthAdjust="spacingAndGlyphs">100</text>
<path d="M412.0 231.3h1.3" stroke="#f47a20" stroke-width="0.7"/>
<path d="M412.0 203.6h1.3" stroke="#f47a20" stroke-width="0.7"/>
<path d="M412.0 175.9h1.3" stroke="#f47a20" stroke-width="0.7"/>
<path d="M412.0 148.3h1.3" stroke="#f47a20" stroke-width="0.7"/>
<rect x="256.6" y="157.3" width="17.2" height="8.4" fill="url(#legg)"/>
<rect x="256.9" y="168.8" width="16.4" height="8.2" fill="#fff" stroke="#f01818" stroke-width="1.2"/>
<path d="M255.8 186H273" stroke="#f47a20" stroke-width="0.9"/><circle cx="264.5" cy="186" r="2" fill="#f26a10"/>
<text x="276" y="163.8" font-size="7.4" font-style="italic" fill="#333">W<tspan font-size="5.6" dy="1.8">rec</tspan></text>
<text x="276" y="176" font-size="7.4" font-style="italic" fill="#333">W<tspan font-size="5.6" dy="1.8">st</tspan></text>
<text x="276.4" y="188.6" font-size="8" font-style="italic" fill="#333">η</text>
<g transform="translate(229.8,229.8) rotate(-90)"><text x="0" y="0" font-size="12" font-style="italic" textLength="8.4" lengthAdjust="spacingAndGlyphs">W</text><text x="8.8" y="2.2" font-size="7.6" font-style="italic" textLength="7" lengthAdjust="spacingAndGlyphs">rec</text><text x="16.6" y="0" font-size="12.4">(J/cm<tspan font-size="7.4" dy="-4">3</tspan><tspan dy="4">)</tspan></text></g>
<text transform="translate(435.4,214.2) rotate(-90)" font-size="12.4" fill="#f26a10"><tspan font-style="italic">η</tspan> (%)</text>
</g>
</svg></body></html>
